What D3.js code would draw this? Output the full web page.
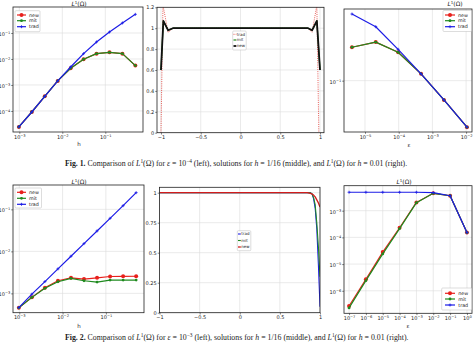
<!DOCTYPE html>
<html><head><meta charset="utf-8">
<script src="https://cdn.jsdelivr.net/npm/d3@7"></script>
<style>body{margin:0;background:#fff}svg{display:block}</style>
</head><body>
<script>
// ---------------- data ----------------
const hValues = [1/1024, 1/512, 1/256, 1/128, 1/64, 1/32, 1/16, 1/8, 1/4, 1/2];
// Fig.1 left: L1 error vs h, eps = 1e-4
const f1LeftNew  = [2.43e-5, 9.12e-5, 3.66e-4, 1.43e-3, 4.37e-3, 9.77e-3, 1.60e-2, 1.80e-2, 1.60e-2, 5.55e-3];
const f1LeftMit  = [2.43e-5, 9.12e-5, 3.66e-4, 1.43e-3, 4.37e-3, 9.77e-3, 1.60e-2, 1.80e-2, 1.60e-2, 5.55e-3];
const f1LeftTrad = [2.43e-5, 9.12e-5, 3.66e-4, 1.43e-3, 4.92e-3, 1.60e-2, 4.51e-2, 0.109, 0.243, 0.522];
// Fig.1 right: L1 error vs eps, h = 0.01
const f1EpsValues = [4.1e-6, 2.08e-5, 9.6e-5, 4.6e-4, 2.2e-3, 1.06e-2];
const f1RightNew  = [0.225, 0.255, 0.199, 0.118, 0.0627, 0.0324];
const f1RightMit  = [0.225, 0.255, 0.199, 0.118, 0.0627, 0.0324];
const f1RightTrad = [0.504, 0.370, 0.214, 0.118, 0.0627, 0.0324];
// Fig.1 middle: solutions, h = 1/16
const f1MidX     = [-1, -0.97, -0.91, -0.85, 0.85, 0.9, 0.96, 1];
const f1MidNew   = [0.6, 1.07, 0.98, 1.0, 1.0, 0.98, 1.07, 0.6];
const f1MidMit   = [0.6, 1.07, 0.98, 1.0, 1.0, 0.98, 1.07, 0.6];
const f1MidTradX = [-1, -0.975, -0.91, -0.85, 0.85, 0.9, 0.96, 0.985];
const f1MidTrad  = [0, 1.22, 0.96, 1.0, 1.0, 0.96, 1.22, 0];
// Fig.2 left: eps = 1e-3
const f2LeftNew  = [4.54e-4, 8.04e-4, 1.36e-3, 2.00e-3, 2.35e-3, 2.19e-3, 2.35e-3, 2.52e-3, 2.55e-3, 2.56e-3];
const f2LeftMit  = [4.54e-4, 8.04e-4, 1.32e-3, 1.89e-3, 2.28e-3, 2.00e-3, 1.86e-3, 2.07e-3, 2.07e-3, 2.07e-3];
const f2LeftTrad = [4.6e-4, 9.57e-4, 1.91e-3, 3.83e-3, 7.66e-3, 1.53e-2, 3.06e-2, 6.12e-2, 0.1225, 0.25];
// Fig.2 right: h = 0.01
const f2EpsValues = [1e-7, 1e-6, 1e-5, 1e-4, 1e-3, 1e-2, 1e-1, 1e0];
const f2RightNew  = [2.69e-7, 2.69e-6, 2.82e-5, 2.29e-4, 2.04e-3, 4.47e-3, 3.63e-3, 1.51e-4];
const f2RightMit  = [2.29e-7, 2.40e-6, 2.40e-5, 2.14e-4, 2.00e-3, 4.47e-3, 3.63e-3, 1.51e-4];
const f2RightTrad = [4.9e-3, 4.9e-3, 4.9e-3, 4.9e-3, 4.9e-3, 4.75e-3, 3.63e-3, 1.51e-4];
// Fig.2 middle: solutions
const f2MidX    = [-1, 0.84, 0.88, 0.9, 0.92, 0.94, 0.96, 0.98, 1.0];
const f2MidNew  = [1, 1, 0.995, 0.99, 0.98, 0.965, 0.94, 0.915, 0.88];
const f2MidMit  = [1, 1, 1, 0.99, 0.96, 0.9, 0.75, 0.55, 0.3];
const f2MidTrad = [1, 1, 1, 0.99, 0.95, 0.87, 0.7, 0.4, 0.05];
// tick values
const hTicks = [1e-3, 1e-2, 1e-1];
const f1LeftYTicks = [1e-4, 1e-3, 1e-2, 1e-1];
const f1RightXTicks = [1e-5, 1e-4, 1e-3, 1e-2];
const f1RightYTicks = [1e-1];
const f2LeftYTicks = [1e-3, 1e-2, 1e-1];
const f2RightXTicks = [1e-7, 1e-6, 1e-5, 1e-4, 1e-3, 1e-2, 1e-1, 1e0];
const f2RightYTicks = [1e-6, 1e-5, 1e-4, 1e-3];
const midXTicks = [-1, -0.5, 0, 0.5, 1];
const f1MidYTicks = [0, 0.2, 0.4, 0.6, 0.8, 1, 1.2];
const f2MidYTicks = [0, 0.25, 0.5, 0.75, 1];
const seriesNames = ['new', 'mit', 'trad'];

// ---------------- drawing ----------------
const RED = '#e8201c', GREEN = '#1f8a1f', BLUE = '#1c1ce6';
const svg = d3.select('body').append('svg').attr('width', 474).attr('height', 348);
const FONT = 'DejaVu Sans';
let clipN = 0;

function powLabel(sel, d) {
  const e = Math.round(Math.log10(d));
  sel.text(null);
  sel.append('tspan').text('10');
  sel.append('tspan').attr('dy', -2).attr('font-size', 3.6).text(e < 0 ? '\u2212' + (-e) : String(e));
}
const numFmt = d => (d < 0 ? '\u2212' : '') + String(Math.abs(d));

function marker(g, type, cx, cy, color) {
  if (type === 'o') g.append('circle').attr('cx', cx).attr('cy', cy).attr('r', 2).attr('fill', color);
  else if (type === 'x') g.append('circle').attr('cx', cx).attr('cy', cy).attr('r', 1.4).attr('fill', color);
  else if (type === '+') {
    g.append('path').attr('d', `M${cx-1.5},${cy}h3M${cx},${cy-1.5}v3`).attr('stroke', color).attr('stroke-width', 0.8);
  }
}

function panel(p) {
  const g = svg.append('g');
  const x = (p.xLog ? d3.scaleLog() : d3.scaleLinear()).domain(p.xDom).range([p.L, p.R]);
  const y = (p.yLog ? d3.scaleLog() : d3.scaleLinear()).domain(p.yDom).range([p.B, p.T]);
  const id = 'clip' + (clipN++);
  svg.append('clipPath').attr('id', id).append('rect')
    .attr('x', p.L).attr('y', p.T).attr('width', p.R - p.L).attr('height', p.B - p.T);
  // grid
  g.append('g').selectAll('line').data(p.xTicks).join('line')
    .attr('x1', d => x(d)).attr('x2', d => x(d)).attr('y1', p.T).attr('y2', p.B)
    .attr('stroke', '#dcdcdc').attr('stroke-width', 0.6);
  g.append('g').selectAll('line').data(p.yTicks).join('line')
    .attr('y1', d => y(d)).attr('y2', d => y(d)).attr('x1', p.L).attr('x2', p.R)
    .attr('stroke', '#dcdcdc').attr('stroke-width', 0.6);
  // axes
  const gx = g.append('g').attr('transform', `translate(0,${p.B})`)
    .call(d3.axisBottom(x).tickValues(p.xTicks).tickSize(1.8).tickPadding(1.2).tickFormat(p.xLog ? () => '' : numFmt));
  const gy = g.append('g').attr('transform', `translate(${p.L},0)`)
    .call(d3.axisLeft(y).tickValues(p.yTicks).tickSize(1.8).tickPadding(1).tickFormat(p.yLog ? () => '' : numFmt));
  [gx, gy].forEach(a => {
    a.select('.domain').remove();
    a.attr('font-size', 5).attr('font-family', FONT);
    a.selectAll('.tick line').attr('stroke', '#333').attr('stroke-width', 0.6);
    a.selectAll('.tick text').attr('fill', '#222');
  });
  if (p.xLog) gx.selectAll('.tick text').each(function (d) { powLabel(d3.select(this), d); });
  if (p.yLog) gy.selectAll('.tick text').each(function (d) { powLabel(d3.select(this), d); }).attr('dy', '0.5em');
  // series
  const plot = g.append('g').attr('clip-path', `url(#${id})`);
  p.series.forEach(s => {
    const pts = s.x.map((xv, i) => [x(xv), y(s.y[i])]);
    plot.append('path').attr('d', d3.line()(pts)).attr('fill', 'none')
      .attr('stroke', s.color).attr('stroke-width', s.width || 1.1)
      .attr('stroke-dasharray', s.dash || null).attr('stroke-linejoin', 'round');
    if (s.marker) pts.forEach(q => marker(plot, s.marker, q[0], q[1], s.color));
  });
  // frame
  g.append('rect').attr('x', p.L).attr('y', p.T).attr('width', p.R - p.L).attr('height', p.B - p.T)
    .attr('fill', 'none').attr('stroke', '#222').attr('stroke-width', 0.8);
  // title / labels
  if (p.title) {
    const t = g.append('text').attr('x', p.title[0]).attr('y', p.title[1]).attr('text-anchor', 'middle')
      .attr('font-family', FONT).attr('font-size', 6).attr('fill', '#222');
    t.append('tspan').attr('font-style', 'italic').text('L');
    t.append('tspan').attr('dy', -2).attr('font-size', 4).text('1');
    t.append('tspan').attr('dy', 2).text('(\u03A9)');
  }
  if (p.xlabel) g.append('text').attr('x', p.xlabel[0]).attr('y', p.xlabel[1]).attr('text-anchor', 'middle')
    .attr('font-family', FONT).attr('font-size', 5.5).attr('fill', '#222').text(p.xlabel[2]);
  // legend
  if (p.legend) {
    const lg = p.legend;
    g.append('rect').attr('x', lg.x).attr('y', lg.y).attr('width', lg.w).attr('height', lg.h)
      .attr('rx', 1).attr('fill', 'white').attr('fill-opacity', 0.9).attr('stroke', '#bbb').attr('stroke-width', 0.5);
    lg.rows.forEach((r, i) => {
      const s = p.series.find(q => q.name === r);
      const ry = lg.rowY[i];
      g.append('line').attr('x1', lg.lx0).attr('x2', lg.lx1).attr('y1', ry).attr('y2', ry)
        .attr('stroke', s.color).attr('stroke-width', s.width || 1.1).attr('stroke-dasharray', s.dash || null);
      if (s.marker) marker(g, s.marker, (lg.lx0 + lg.lx1) / 2, ry, s.color);
      g.append('text').attr('x', lg.tx).attr('y', ry).attr('dy', '0.35em')
        .attr('font-family', FONT).attr('font-size', lg.fs).attr('fill', '#222').text(r);
    });
  }
}

function errSeries(xs, n, m, t) {
  return [
    {name: seriesNames[0], x: xs, y: n, color: RED, marker: 'o', width: 1.2},
    {name: seriesNames[1], x: xs, y: m, color: GREEN, marker: 'x', width: 1.2},
    {name: seriesNames[2], x: xs, y: t, color: BLUE, marker: '+', width: 1.2}
  ];
}

// Fig 1 left
panel({L: 13, R: 143, T: 7, B: 132, xLog: true, yLog: true,
  xDom: [7.13e-4, 0.753], yDom: [1.55e-5, 1],
  xTicks: hTicks, yTicks: f1LeftYTicks,
  series: errSeries(hValues, f1LeftNew, f1LeftMit, f1LeftTrad),
  title: [79, 5.5], xlabel: [79, 146, 'h'],
  legend: {x: 15, y: 10.7, w: 25, h: 21, rowY: [15, 20.7, 26.7], lx0: 17, lx1: 26, tx: 29, fs: 4.8, rows: ['new', 'mit', 'trad']}
});
// Fig 1 middle
panel({L: 157, R: 324, T: 7.3, B: 132.7, xLog: false, yLog: false,
  xDom: [-1.05, 1.05], yDom: [0, 1.2],
  xTicks: midXTicks, yTicks: f1MidYTicks,
  series: [
    {name: 'trad', x: f1MidTradX, y: f1MidTrad, color: '#e0302a', dash: '1,1.2', width: 0.8},
    {name: 'mit', x: f1MidX, y: f1MidMit, color: GREEN, width: 1.2},
    {name: 'new', x: f1MidX, y: f1MidNew, color: '#111', width: 1.8}
  ],
  legend: {x: 232.7, y: 31, w: 13.5, h: 19, rowY: [34.3, 40, 46], lx0: 233.5, lx1: 236.3, tx: 236.8, fs: 4, rows: ['trad', 'mit', 'new']}
});
// Fig 1 right
panel({L: 344, R: 472, T: 9, B: 132, xLog: true, yLog: true,
  xDom: [2.38e-6, 1.496e-2], yDom: [0.0288, 0.569],
  xTicks: f1RightXTicks, yTicks: f1RightYTicks,
  series: errSeries(f1EpsValues, f1RightNew, f1RightMit, f1RightTrad),
  title: [455, 5.5], xlabel: [409, 147, '\u03B5'],
  legend: {x: 443, y: 10.5, w: 28.5, h: 21, rowY: [15, 20.7, 26.7], lx0: 445, lx1: 455, tx: 458, fs: 4.8, rows: ['new', 'mit', 'trad']}
});
// Fig 2 left
panel({L: 13, R: 144, T: 185, B: 312.7, xLog: true, yLog: true,
  xDom: [7.16e-4, 0.759], yDom: [3.47e-4, 0.380],
  xTicks: hTicks, yTicks: f2LeftYTicks,
  series: errSeries(hValues, f2LeftNew, f2LeftMit, f2LeftTrad),
  title: [79, 183.5], xlabel: [79, 328, 'h'],
  legend: {x: 15, y: 188, w: 26.5, h: 20, rowY: [192.3, 198.3, 204.3], lx0: 17, lx1: 26, tx: 29, fs: 4.8, rows: ['new', 'mit', 'trad']}
});
// Fig 2 middle
panel({L: 159.5, R: 320, T: 187.3, B: 312.7, xLog: false, yLog: false,
  xDom: [-1, 1], yDom: [0, 1.045],
  xTicks: midXTicks, yTicks: f2MidYTicks,
  series: [
    {name: 'trad', x: f2MidX, y: f2MidTrad, color: BLUE, width: 1.1},
    {name: 'mit', x: f2MidX, y: f2MidMit, color: GREEN, width: 1.1},
    {name: 'new', x: f2MidX, y: f2MidNew, color: '#d11c1c', width: 1.3}
  ],
  legend: {x: 237.3, y: 230.7, w: 13.5, h: 20, rowY: [234, 240.5, 247], lx0: 238, lx1: 240.8, tx: 241.3, fs: 4, rows: ['trad', 'mit', 'new']}
});
// Fig 2 right
panel({L: 344, R: 472, T: 185.7, B: 313.3, xLog: true, yLog: true,
  xDom: [5.01e-8, 1.995], yDom: [1.435e-7, 8.63e-3],
  xTicks: f2RightXTicks, yTicks: f2RightYTicks,
  series: errSeries(f2EpsValues, f2RightNew, f2RightMit, f2RightTrad),
  title: [404, 183.5], xlabel: [408, 328, '\u03B5'],
  legend: {x: 441.7, y: 288, w: 30, h: 22, rowY: [293.3, 299, 305], lx0: 445, lx1: 455, tx: 458.3, fs: 4.8, rows: ['new', 'mit', 'trad']}
});

// captions
function caption(x0, yb, width, num, eps) {
  const t = svg.append('text').attr('x', x0).attr('y', yb).attr('font-family', 'Liberation Serif')
    .attr('font-size', 7).attr('fill', '#222');
  const add = (s, o = {}) => {
    const sp = t.append('tspan').text(s);
    if (o.b) sp.attr('font-weight', 'bold');
    if (o.i) sp.attr('font-style', 'italic');
    if (o.dy) sp.attr('dy', o.dy);
    if (o.fs) sp.attr('font-size', o.fs);
    return sp;
  };
  add('Fig. ' + num + '.', {b: true});
  add(' Comparison of ');
  add('L', {i: true}); add('1', {dy: -2.6, fs: 4.8}); add('(\u03A9) for ', {dy: 2.6});
  add('\u03B5', {i: true}); add(' = 10'); add('\u2212' + eps, {dy: -2.6, fs: 4.8});
  add(' (left), solutions for ', {dy: 2.6}); add('h', {i: true}); add(' = 1/16 (middle), and ');
  add('L', {i: true}); add('1', {dy: -2.6, fs: 4.8}); add('(\u03A9) for ', {dy: 2.6});
  add('h', {i: true}); add(' = 0.01 (right).');
  const len = t.node().getComputedTextLength();
  t.attr('font-size', 7 * width / len);
  t.selectAll('tspan').filter(function () { return d3.select(this).attr('font-size'); })
    .attr('font-size', 4.8 * width / len);
}
caption(65, 165.5, 343, 1, 4);
caption(65, 340, 344, 2, 3);
</script>
</body></html>
